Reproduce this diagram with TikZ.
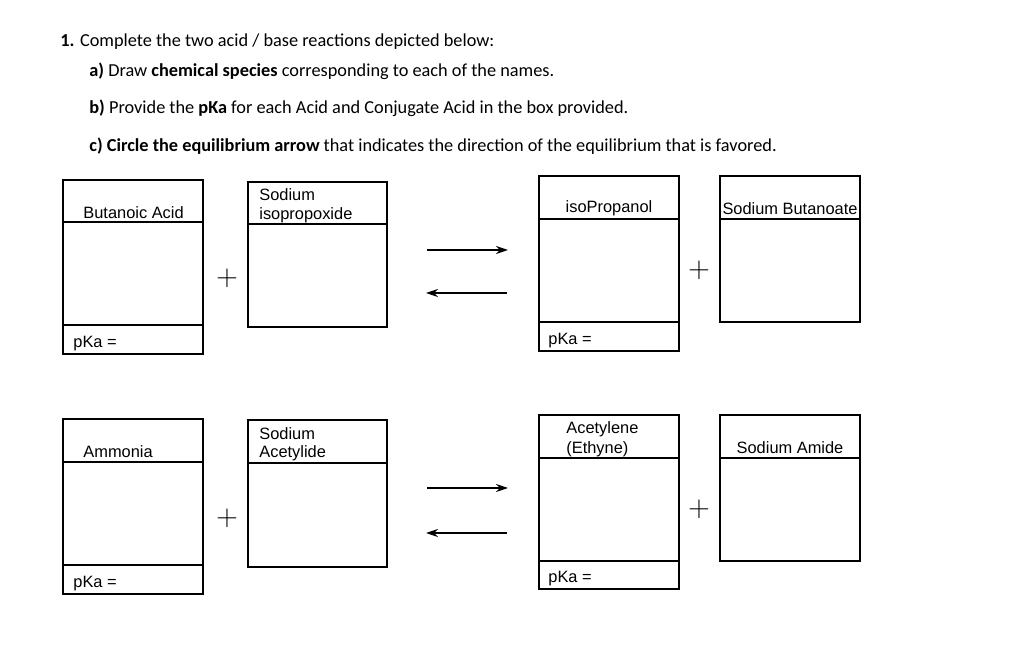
\documentclass[tikz,border=0pt]{standalone}
\usepackage{fontspec}
\setmainfont{Carlito}
\newfontfamily\arialfont{Liberation Sans}
\usetikzlibrary{positioning,arrows.meta,fit}

\begin{document}
\begin{tikzpicture}[x=0.5pt, y=-0.5pt,
  qtext/.style={anchor=base west, inner sep=0pt, font=\fontsize{9.15}{11}\selectfont},
  lab/.style={anchor=base west, inner sep=0pt, font=\arialfont\fontsize{8.2}{9.6}\selectfont},
  box/.style={draw, line width=0.65pt, inner sep=0pt},
  sep/.style={line width=0.9pt},
  eqarrow/.style={line width=0.65pt, -{Stealth[length=6pt, width=4pt]}},
  plus/.style={inner sep=0pt, font=\fontsize{15}{15}\selectfont}]
\useasboundingbox (0,0) rectangle (1012,651);
% questions
\node[qtext] (q1) at (60,47) {\textbf{1.} Complete the two acid / base reactions depicted below:};
\node[qtext] (qa) at (89,77) {\textbf{a)} Draw \textbf{chemical species} corresponding to each of the names.};
\node[qtext] (qb) at (89,114) {\textbf{b)} Provide the \textbf{pKa} for each Acid and Conjugate Acid in the box provided.};
\node[qtext] (qc) at (89,152) {\textbf{c) Circle the equilibrium arrow} that indicates the direction of the equilibrium that is favored.};
% boxes
\foreach \n/\xa/\ya/\xb/\yb/\yh in {butA/63/180/203/354/222, naiso/248/182/387/327/224,
    isoprop/539/176/679/351/219, nabut/720/176/860/322/219,
    ammonia/63/419/203/594/462, naacet/248/420/387/567/463,
    acetyl/539/415/679/589/458, naamide/720/415/860/561/458} {
  \node[box, fit={(\xa,\ya) (\xb,\yb)}] (\n) {};
  \draw[sep] (\n.west |- 0,\yh) -- (\n.east |- 0,\yh);
}
\foreach \n/\yp in {butA/325, isoprop/322, ammonia/565, acetyl/561}
  \draw[sep] (\n.west |- 0,\yp) -- (\n.east |- 0,\yp);
% names
\node[lab] (lbutA) at (83,219) {Butanoic Acid};
\node[lab] (lnaiso1) at (259,201) {Sodium};
\node[lab] (lnaiso2) at (259,220) {isopropoxide};
\node[lab, anchor=base] (lisoprop) at (609,213) {isoPropanol};
\node[lab, anchor=base] (lnabut) at (790,215) {Sodium Butanoate};
\node[lab] (lammonia) at (83,458) {Ammonia};
\node[lab] (lnaacet1) at (259,440) {Sodium};
\node[lab] (lnaacet2) at (259,458) {Acetylide};
\node[lab] (lacetyl1) at (566,434) {Acetylene};
\node[lab] (lacetyl2) at (566,454) {(Ethyne)};
\node[lab, anchor=base] (lnaamide) at (790,454) {Sodium Amide};
% pKa
\node[lab] (pk1) at (73,348) {pKa =};
\node[lab] (pk2) at (548,345) {pKa =};
\node[lab] (pk3) at (73,588) {pKa =};
\node[lab] (pk4) at (548,583) {pKa =};
% plus signs
\node[plus] (p1) at (227,278) {$+$};
\node[plus] (p2) at (699,270) {$+$};
\node[plus] (p3) at (227,518) {$+$};
\node[plus] (p4) at (699,509) {$+$};
% equilibrium arrows
\coordinate (f1s) at (427,250); \coordinate (f1e) at (508,250);
\coordinate (b1s) at (507,293); \coordinate (b1e) at (426,293);
\coordinate (f2s) at (427,488); \coordinate (f2e) at (508,488);
\coordinate (b2s) at (507,533); \coordinate (b2e) at (426,533);
\draw[eqarrow] (f1s) -- (f1e);
\draw[eqarrow] (b1s) -- (b1e);
\draw[eqarrow] (f2s) -- (f2e);
\draw[eqarrow] (b2s) -- (b2e);
\end{tikzpicture}
\end{document}
